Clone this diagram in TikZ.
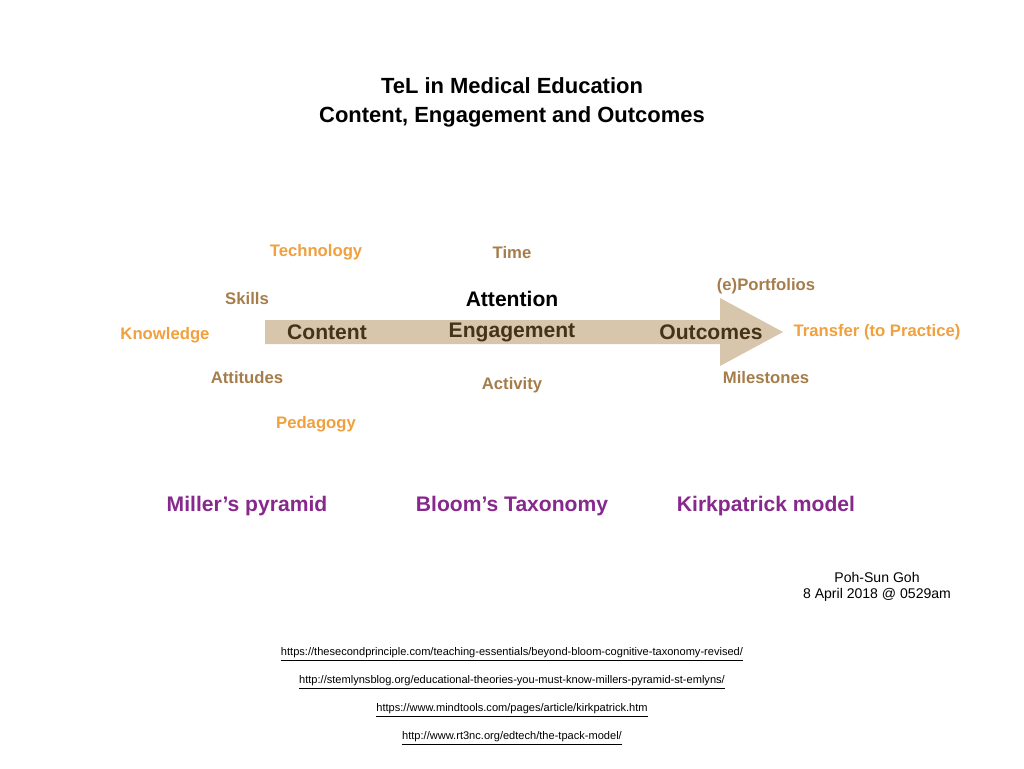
\documentclass[tikz,border=0pt]{standalone}
\usepackage{fontspec}
\setmainfont{Liberation Sans}
\usepackage{xcolor}
\definecolor{tan}{RGB}{216,198,172}
\definecolor{orng}{RGB}{240,160,60}
\definecolor{brwn}{RGB}{165,125,75}
\definecolor{dbrwn}{RGB}{70,50,25}
\definecolor{purp}{RGB}{135,40,140}
\begin{document}
\begin{tikzpicture}[x=0.02cm,y=-0.02cm,
    lbl/.style={font=\bfseries\fontsize{9.5}{11}\selectfont},
    big/.style={font=\bfseries\fontsize{12}{14}\selectfont,text=dbrwn},
    model/.style={font=\bfseries\fontsize{12}{14}\selectfont,text=purp},
    url/.style={font=\fontsize{6.3}{7}\selectfont}]
    \useasboundingbox (0,0) rectangle (1024,768);

    % title
    \node[font=\bfseries\fontsize{12.5}{16.5}\selectfont,align=center] (title) at (512,102)
        {TeL in Medical Education\\Content, Engagement and Outcomes};

    % arrow
    \fill[tan] (265,320) -- (720,320) -- (720,298) -- (783,332) -- (720,366) -- (720,344) -- (265,344) -- cycle;

    \node[big] (content) at (327,332) {Content};
    \node[big] (engage) at (512,332) {Engagement};
    \node[big] (outcome) at (711,332) {Outcomes};
    \node[big,text=black] (attn) at (512,299) {Attention};

    % left cluster
    \node[lbl,text=orng] (tech) at (316,252) {Technology};
    \node[lbl,text=brwn] (skills) at (247,299) {Skills};
    \node[lbl,text=orng] (know) at (165,335) {Knowledge};
    \node[lbl,text=brwn] (att) at (247,378) {Attitudes};
    \node[lbl,text=orng] (ped) at (316,424) {Pedagogy};

    % middle cluster
    \node[lbl,text=brwn] (time) at (512,253) {Time};
    \node[lbl,text=brwn] (act) at (512,385) {Activity};

    % right cluster
    \node[lbl,text=brwn] (port) at (766,286) {(e)Portfolios};
    \node[lbl,text=orng] (trans) at (877,332) {Transfer (to Practice)};
    \node[lbl,text=brwn] (mile) at (766,378) {Milestones};

    % models
    \node[model] (miller) at (247,506) {Miller’s pyramid};
    \node[model] (bloom) at (512,506) {Bloom’s Taxonomy};
    \node[model] (kirk) at (766,506) {Kirkpatrick model};

    \node[font=\fontsize{8}{9.5}\selectfont,align=center] (auth) at (877,587)
        {Poh-Sun Goh\\8 April 2018 @ 0529am};

    % links
    \node[url] (u1) at (512,654) {\underline{https://thesecondprinciple.com/teaching-essentials/beyond-bloom-cognitive-taxonomy-revised/}};
    \node[url] (u2) at (512,682) {\underline{http://stemlynsblog.org/educational-theories-you-must-know-millers-pyramid-st-emlyns/}};
    \node[url] (u3) at (512,710) {\underline{https://www.mindtools.com/pages/article/kirkpatrick.htm}};
    \node[url] (u4) at (512,738) {\underline{http://www.rt3nc.org/edtech/the-tpack-model/}};
\end{tikzpicture}
\end{document}
